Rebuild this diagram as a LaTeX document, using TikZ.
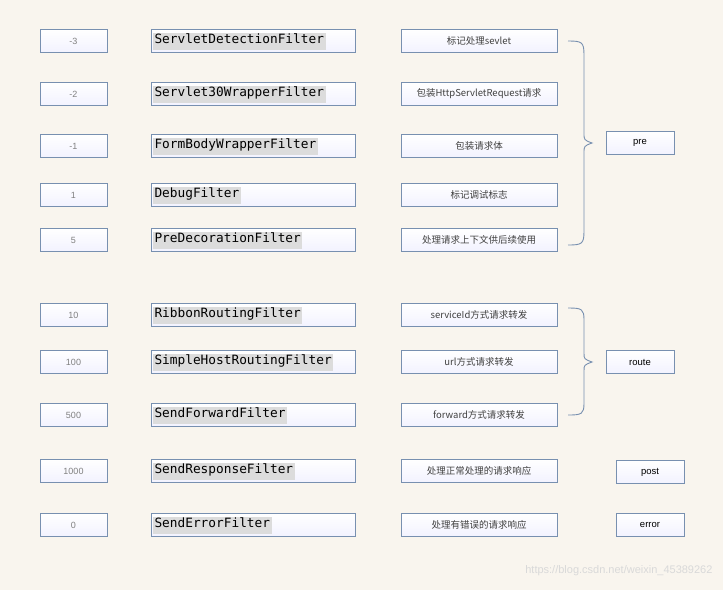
\documentclass[tikz,border=0pt]{standalone}
\usepackage{fontspec}
\setmainfont{Liberation Sans}
\newfontfamily\cjk{Noto Sans CJK SC}
\newfontfamily\mono{DejaVu Sans Mono}
\definecolor{bg}{HTML}{F9F5EE}
\definecolor{bd}{HTML}{7890B0}
\definecolor{hl}{HTML}{DCDCDC}
\setlength{\fboxsep}{1.5pt}
\begin{document}
\begin{tikzpicture}[x=1pt,y=-1pt,
 box/.style={draw=bd,line width=0.8pt,top color=white,bottom color=blue!5!white,minimum height=23pt,inner sep=0pt},
 num/.style={box,minimum width=67pt,font=\fontsize{9}{10}\selectfont,text=gray},
 filt/.style={box,minimum width=204pt,font=\mono\fontsize{12.8}{14}\selectfont,text=black,text width=200pt,align=left},
 desc/.style={box,minimum width=156pt,font=\cjk\fontsize{9.5}{11}\selectfont,text=black!75},
 phase/.style={box,minimum width=68pt,font=\fontsize{9.5}{11}\selectfont},
 br/.style={draw=bd,line width=0.9pt}]
\fill[bg] (0,0) rectangle (723,590);
\useasboundingbox (0,0) rectangle (723,590);
\foreach \i/\y/\n/\f/\d in {
 a/41/-3/ServletDetectionFilter/标记处理sevlet,
 b/94/-2/Servlet30WrapperFilter/包装HttpServletRequest请求,
 c/146/-1/FormBodyWrapperFilter/包装请求体,
 d/195/1/DebugFilter/标记调试标志,
 e/240/5/PreDecorationFilter/处理请求上下文供后续使用,
 f/315/10/RibbonRoutingFilter/serviceId方式请求转发,
 g/362/100/SimpleHostRoutingFilter/url方式请求转发,
 h/415/500/SendForwardFilter/forward方式请求转发,
 i/471/1000/SendResponseFilter/处理正常处理的请求响应,
 j/525/0/SendErrorFilter/处理有错误的请求响应}{
 \node[num] (n\i) at (73.5,\y) {\n};
 \node[filt] (f\i) at (253,\y) {\colorbox{hl}{\strut\f}};
 \node[desc] (d\i) at (479,\y) {\d};
}
\node[phase] (pre) at (640,143) {pre};
\node[phase] (route) at (640,362) {route};
\node[phase] (post) at (650,472) {post};
\node[phase] (error) at (650,525) {error};
\draw[br] (568,41) .. controls (582,41) and (584,42) .. (584,55) -- (584,133) .. controls (584,140) .. (592,143)
 .. controls (584,146) .. (584,153) -- (584,231) .. controls (584,244) and (582,245) .. (568,245);
\draw[br] (568,308) .. controls (582,308) and (584,309) .. (584,320) -- (584,353) .. controls (584,359) .. (592,362)
 .. controls (584,365) .. (584,371) -- (584,403) .. controls (584,414) and (582,415) .. (568,415);
\node[text=white!70!gray,font=\fontsize{11}{12}\selectfont,anchor=east] (wm) at (716,571) {https://blog.csdn.net/weixin\_45389262};
\end{tikzpicture}
\end{document}
